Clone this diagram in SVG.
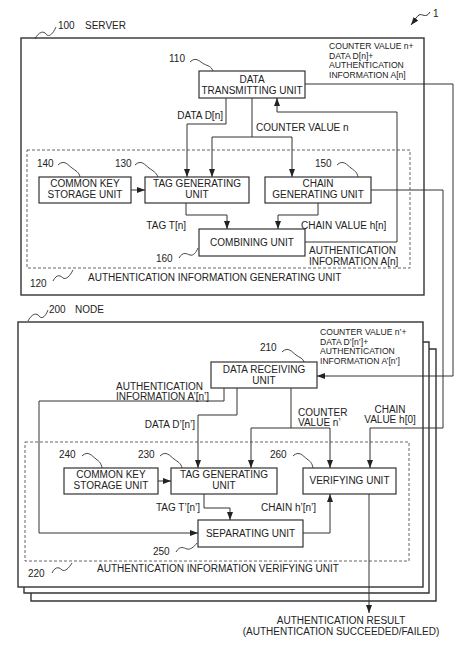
<svg xmlns="http://www.w3.org/2000/svg" width="474" height="655" viewBox="0 0 474 655">
<defs>
<marker id="ah" markerUnits="userSpaceOnUse" markerWidth="8" markerHeight="6" refX="8" refY="3" orient="auto">
<path d="M0,0 L8,3 L0,6 z" fill="#222"/>
</marker>
</defs>
<style>
text{font-family:"Liberation Sans",Arial,sans-serif;font-size:10px;fill:#222}
.s{font-size:8.6px}
.m{text-anchor:middle}
.e{text-anchor:end}
.box{fill:#fff;stroke:#333;stroke-width:1.2}
.outer{fill:none;stroke:#333;stroke-width:1.4}
.dash{fill:none;stroke:#555;stroke-width:0.9;stroke-dasharray:3,2}
.ln{fill:none;stroke:#333;stroke-width:1}
.ar{fill:none;stroke:#333;stroke-width:1;marker-end:url(#ah)}
.sq{fill:none;stroke:#333;stroke-width:0.9}
</style>
<rect width="474" height="655" fill="#fff"/>

<g id="ref1">
<path class="ar" d="M430,12 C426,19 422,13 419,15 C416,17 415,20 411,25"/>
<text x="433" y="17">1</text>
</g>

<g id="n100">
<rect class="outer" x="21" y="38" width="403" height="257"/>
<path class="sq" d="M35,39 C39,31 44,31 46,34 C48,37 52,36 56,27"/>
<text x="58" y="29">100</text>
<text x="85" y="29">SERVER</text>
<text class="s" x="329" y="49">COUNTER VALUE n+</text>
<text class="s" x="329" y="58.6">DATA D[n]+</text>
<text class="s" x="329" y="68.2">AUTHENTICATION</text>
<text class="s" x="329" y="77.8">INFORMATION A[n]</text>
</g>

<g id="n120">
<rect class="dash" x="27" y="150" width="383" height="118"/>
<path class="sq" d="M53,281 C57,273 61,276 63,278 C66,280 70,276 73,270"/>
<text x="30" y="287">120</text>
<text x="88" y="281">AUTHENTICATION INFORMATION GENERATING UNIT</text>
</g>

<g id="n110">
<path class="sq" d="M190,62 C196,56 200,62 204,64 C208,66 211,66 213,71"/>
<text x="169" y="62">110</text>
<rect class="box" x="199" y="71" width="106" height="27"/>
<text class="m" x="252" y="82.5">DATA</text>
<text class="m" x="252" y="93.5">TRANSMITTING UNIT</text>
</g>

<g id="n140">
<path class="sq" d="M58,165 C64,159 68,165 72,168 C76,171 79,172 80,177"/>
<text x="37" y="167">140</text>
<rect class="box" x="39" y="177" width="92" height="26"/>
<text class="m" x="85" y="187">COMMON KEY</text>
<text class="m" x="85" y="198">STORAGE UNIT</text>
</g>

<g id="n130">
<path class="sq" d="M135,165 C141,159 145,165 149,168 C153,171 156,172 158,177"/>
<text x="115" y="167">130</text>
<rect class="box" x="145" y="177" width="104" height="26"/>
<text class="m" x="197" y="187">TAG GENERATING</text>
<text class="m" x="197" y="198">UNIT</text>
</g>

<g id="n150">
<path class="sq" d="M337,165 C343,159 347,165 351,168 C355,171 357,172 358,177"/>
<text x="315" y="167">150</text>
<rect class="box" x="265" y="177" width="106" height="26"/>
<text class="m" x="318" y="187">CHAIN</text>
<text class="m" x="318" y="198">GENERATING UNIT</text>
</g>

<g id="n160">
<rect class="box" x="199" y="229" width="106" height="27"/>
<text class="m" x="252" y="245.5">COMBINING UNIT</text>
<path class="sq" d="M179,258 C183,251 187,254 190,255 C193,256 196,253 198,248"/>
<text x="156" y="262">160</text>
</g>

<g id="n200">
<path class="outer" d="M429,349 H436 V601 H31 V593"/>
<path class="outer" d="M423,342 H429 V593 H24 V587"/>
<rect class="outer" x="18" y="322" width="405" height="265"/>
<path class="sq" d="M28,321 C32,313 37,313 39,316 C41,319 45,318 48,310"/>
<text x="49" y="312.5">200</text>
<text x="75" y="312.5">NODE</text>
<text class="s" x="320" y="335">COUNTER VALUE n’+</text>
<text class="s" x="320" y="344.6">DATA D’[n’]+</text>
<text class="s" x="320" y="354.2">AUTHENTICATION</text>
<text class="s" x="320" y="363.8">INFORMATION A’[n’]</text>
</g>

<g id="n220">
<rect class="dash" x="25" y="442" width="384" height="119"/>
<path class="sq" d="M52,573 C56,565 60,568 62,570 C65,572 69,568 72,563"/>
<text x="28" y="577">220</text>
<text x="97" y="571.5">AUTHENTICATION INFORMATION VERIFYING UNIT</text>
</g>

<g id="n210">
<path class="sq" d="M282,352 C288,346 292,352 296,355 C300,358 303,358 304,362"/>
<text x="260" y="351">210</text>
<rect class="box" x="211" y="362" width="106" height="26"/>
<text class="m" x="264" y="372.5">DATA RECEIVING</text>
<text class="m" x="264" y="384">UNIT</text>
</g>

<g id="n240">
<path class="sq" d="M82,456 C88,450 92,456 96,459 C100,462 101,463 102,468"/>
<text x="59" y="457.5">240</text>
<rect class="box" x="64" y="468" width="94" height="26"/>
<text class="m" x="111" y="477.5">COMMON KEY</text>
<text class="m" x="111" y="488.5">STORAGE UNIT</text>
</g>

<g id="n230">
<path class="sq" d="M160,456 C166,450 170,456 174,459 C178,462 181,463 182,468"/>
<text x="138" y="457.5">230</text>
<rect class="box" x="171" y="468" width="106" height="26"/>
<text class="m" x="224" y="477.5">TAG GENERATING</text>
<text class="m" x="224" y="488.5">UNIT</text>
</g>

<g id="n260">
<path class="sq" d="M293,456 C299,450 303,456 307,459 C311,462 312,463 313,468"/>
<text x="270" y="457.5">260</text>
<rect class="box" x="303" y="468" width="93" height="26"/>
<text class="m" x="349.5" y="484">VERIFYING UNIT</text>
</g>

<g id="n250">
<rect class="box" x="198" y="520" width="105" height="27"/>
<text class="m" x="250.5" y="537">SEPARATING UNIT</text>
<path class="sq" d="M176,552 C180,545 184,548 187,549 C190,550 194,547 197,543"/>
<text x="153" y="555">250</text>
</g>

<g id="connectors">
<path class="ar" d="M305,84 H453 V376 H317"/>
<path class="ar" d="M305,242 H397 V112 H277 V98"/>
<path class="ar" d="M226,98 V124 H187 V177"/>
<path class="ln" d="M252,98 V137 M212,137 H292"/>
<path class="ar" d="M212,137 V177"/>
<path class="ar" d="M292,137 V177"/>
<path class="ar" d="M131,190 H145"/>
<path class="ar" d="M186,203 V215 H227 V229"/>
<path class="ar" d="M318,203 V215 H278 V229"/>
<path class="ar" d="M371,190 H443 V428 H370 V468"/>
<path class="ar" d="M224,388 V401 H39 V533 H198"/>
<path class="ar" d="M237,388 V415 H198 V468"/>
<path class="ln" d="M291,388 V428 M251,428 H330"/>
<path class="ar" d="M251,428 V468"/>
<path class="ar" d="M330,428 V468"/>
<path class="ar" d="M158,481 H171"/>
<path class="ar" d="M204,494 V508 H230 V520"/>
<path class="ar" d="M303,533 H330 V494"/>
<path class="ar" d="M369,494 V613"/>
</g>

<g id="labels">
<text class="e" x="223" y="118.5">DATA D[n]</text>
<text x="256" y="131">COUNTER VALUE n</text>
<text class="e" x="186" y="228.5">TAG T[n]</text>
<text x="301" y="228.5">CHAIN VALUE h[n]</text>
<text x="309" y="253.5">AUTHENTICATION</text>
<text x="309" y="264.5">INFORMATION A[n]</text>
<text x="116" y="389.5">AUTHENTICATION</text>
<text x="116" y="399.5">INFORMATION A’[n’]</text>
<text class="e" x="195" y="427.5">DATA D’[n’]</text>
<text x="298" y="415.5">COUNTER</text>
<text x="298" y="426">VALUE n’</text>
<text class="m" x="390" y="412.5">CHAIN</text>
<text class="m" x="390" y="422.5">VALUE h[0]</text>
<text class="e" x="200" y="510.5">TAG T’[n’]</text>
<text x="261" y="510.5">CHAIN h’[n’]</text>
<text class="m" x="341" y="623.5">AUTHENTICATION RESULT</text>
<text class="m" x="341" y="634.5">(AUTHENTICATION SUCCEEDED/FAILED)</text>
</g>
</svg>
